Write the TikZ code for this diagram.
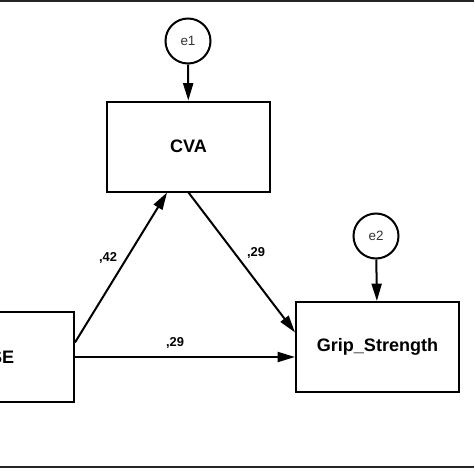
\documentclass[tikz,border=0pt]{standalone}
\usepackage{fontspec}
\setmainfont{Liberation Sans}
\usepackage{tikz}
\usetikzlibrary{positioning,arrows.meta}

\begin{document}
\begin{tikzpicture}[x=0.03cm,y=-0.03cm,line width=0.06cm,
		>={Triangle[length=0.52cm,width=0.3cm]},
		var/.style={draw,rectangle,minimum width=4.89cm,minimum height=2.7cm,font=\fontsize{15.4}{18}\selectfont\bfseries},
		err/.style={draw,circle,minimum size=1.35cm,inner sep=0pt,font=\fontsize{11.5}{14}\selectfont,text=black!80},
		coef/.style={font=\fontsize{11}{13}\selectfont\bfseries}]
			\useasboundingbox (0,0) rectangle (474,474);
			\draw[line width=0.05cm,black!85] (0,1) -- (474,1);
			\draw[line width=0.06cm,black!85] (0,467) -- (474,467);

			\node[var] (cva)  at (188.5,146.5) {CVA};
			\node[var] (se)   at (-7.5,357)    {};
			\node[font=\fontsize{15.4}{18}\selectfont\bfseries,anchor=east] (sel) at (19,357) {SE};
			\node[var] (grip) at (377.5,347)   {Grip\_Strength};
			\node[err] (e1)   at (188,41)      {e1};
			\node[err] (e2)   at (376,236)     {e2};

			\draw[->] (e1) -- (cva);
			\draw[->] (e2) -- (grip);
			\draw[->] (se.10) -- (cva.245);
			\draw[->] (cva.south) -- (grip.170);
			\draw[->] (se.east) -- (se.east -| grip.west);

			\node[coef] (c1) at (108,258) {,42};
			\node[coef] (c2) at (256,253) {,29};
			\node[coef] (c3) at (175,343) {,29};
\end{tikzpicture}
\end{document}
